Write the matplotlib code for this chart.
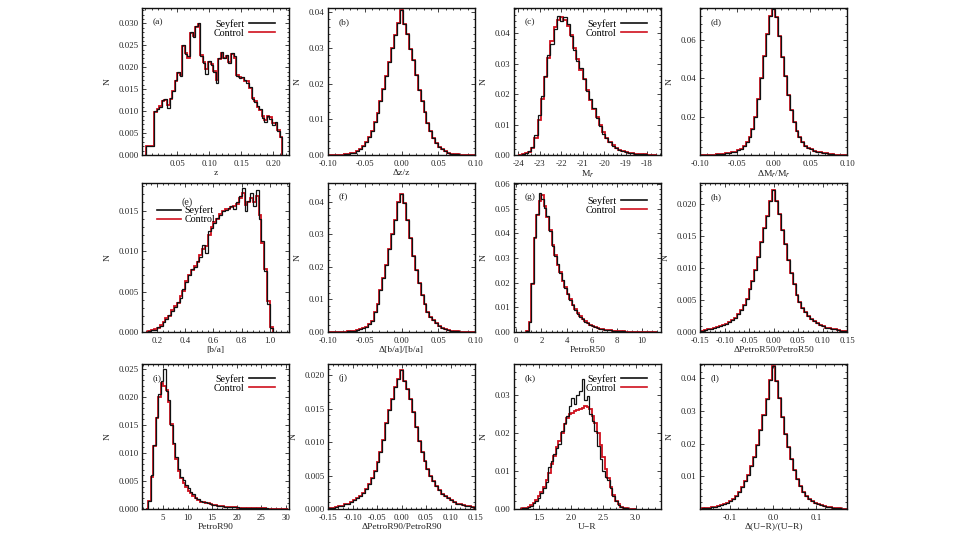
import numpy as np
import matplotlib
matplotlib.use('Agg')
import matplotlib.pyplot as plt
from matplotlib.lines import Line2D
from matplotlib.ticker import AutoMinorLocator, FixedLocator, FormatStrFormatter

plt.rcParams['font.family'] = ['Liberation Serif', 'DejaVu Serif']
plt.rcParams['axes.unicode_minus'] = True

BLACK = '#111111'
RED = '#d0101e'

# ---------------- data (bin start, bin width, values) ----------------
# (a) z
z_start, z_width = 0.002, 0.004
z_sey = [0.0020, 0.0020, 0.0020, 0.0100, 0.0105, 0.0110, 0.0125, 0.0128, 0.0108, 0.0130,
         0.0145, 0.0170, 0.0190, 0.0180, 0.0250, 0.0230, 0.0225, 0.0280, 0.0270, 0.0295,
         0.0300, 0.0225, 0.0210, 0.0185, 0.0215, 0.0205, 0.0190, 0.0165, 0.0220, 0.0235,
         0.0220, 0.0228, 0.0210, 0.0233, 0.0225, 0.0180, 0.0175, 0.0178, 0.0170, 0.0165,
         0.0155, 0.0128, 0.0120, 0.0112, 0.0105, 0.0085, 0.0075, 0.0090, 0.0083, 0.0068,
         0.0075, 0.0055, 0.0040]
z_con = [0.0020, 0.0020, 0.0020, 0.0098, 0.0105, 0.0112, 0.0122, 0.0126, 0.0115, 0.0128,
         0.0145, 0.0168, 0.0188, 0.0182, 0.0248, 0.0232, 0.0222, 0.0278, 0.0272, 0.0292,
         0.0298, 0.0228, 0.0212, 0.0195, 0.0212, 0.0208, 0.0192, 0.0172, 0.0218, 0.0232,
         0.0222, 0.0226, 0.0212, 0.0230, 0.0222, 0.0182, 0.0178, 0.0176, 0.0168, 0.0168,
         0.0152, 0.0130, 0.0122, 0.0110, 0.0102, 0.0088, 0.0080, 0.0088, 0.0086, 0.0072,
         0.0072, 0.0058, 0.0042]

# (b) dz/z
dz_start, dz_width = -0.102, 0.004
dz_vals = [0.00003, 0.00005, 0.00005, 0.0001, 0.0001, 0.0001, 0.0002, 0.0003, 0.0005, 0.0007,
           0.0011, 0.0017, 0.0025, 0.0036, 0.0050, 0.0068, 0.0092, 0.0118, 0.0150, 0.0185,
           0.0222, 0.0262, 0.0300, 0.0335, 0.0370,
           0.0405,
           0.0368, 0.0340, 0.0298, 0.0265, 0.0225, 0.0182, 0.0152, 0.0120, 0.0090, 0.0066,
           0.0048, 0.0034, 0.0023, 0.0016, 0.0010, 0.0007, 0.0004, 0.0003, 0.0002, 0.0001,
           0.0001, 0.0001, 0.00005, 0.00003, 0.00002]

# (c) M_r
mr_start, mr_width = -24.0, 0.15
mr_sey = [0.0001, 0.0002, 0.0006, 0.0012, 0.0025, 0.0065, 0.0130, 0.0195, 0.0260, 0.0330,
          0.0365, 0.0415, 0.0458, 0.0440, 0.0455, 0.0430, 0.0390, 0.0345, 0.0310, 0.0285,
          0.0250, 0.0210, 0.0185, 0.0155, 0.0120, 0.0095, 0.0070, 0.0055, 0.0042, 0.0030,
          0.0022, 0.0015, 0.0012, 0.0009, 0.0007, 0.0005, 0.0004, 0.0003, 0.0002, 0.0002,
          0.0001, 0.0001, 0.0001]
mr_con = [0.0001, 0.0002, 0.0005, 0.0011, 0.0022, 0.0055, 0.0115, 0.0185, 0.0255, 0.0320,
          0.0375, 0.0420, 0.0445, 0.0452, 0.0445, 0.0425, 0.0395, 0.0350, 0.0315, 0.0280,
          0.0250, 0.0215, 0.0180, 0.0150, 0.0125, 0.0098, 0.0075, 0.0057, 0.0043, 0.0032,
          0.0023, 0.0016, 0.0012, 0.0009, 0.0007, 0.0005, 0.0004, 0.0003, 0.0002, 0.0002,
          0.0001, 0.0001, 0.0001]

# (d) dMr/Mr
dmr_start, dmr_width = -0.102, 0.004
dmr_vals = [0.0001, 0.0001, 0.0001, 0.0001, 0.0001, 0.0002, 0.0003, 0.0004, 0.0006, 0.0008,
            0.0010, 0.0014, 0.0018, 0.0024, 0.0032, 0.0045, 0.0065, 0.0095, 0.0135, 0.0200,
            0.0290, 0.0400, 0.0515, 0.0630, 0.0720,
            0.0760,
            0.0715, 0.0620, 0.0510, 0.0410, 0.0310, 0.0235, 0.0170, 0.0125, 0.0092, 0.0065,
            0.0048, 0.0036, 0.0029, 0.0023, 0.0018, 0.0014, 0.0011, 0.0008, 0.0005, 0.0003,
            0.0002, 0.0001, 0.0001, 0.0001, 0.0001]

# (e) [b/a]
ba_start, ba_width = 0.12, 0.02
ba_sey = [0.0000, 0.0001, 0.0002, 0.0003, 0.0006, 0.0008, 0.0012, 0.0016, 0.0021, 0.0026,
          0.0031, 0.0037, 0.0042, 0.0053, 0.0062, 0.0070, 0.0078, 0.0080, 0.0088, 0.0093,
          0.0108, 0.0098, 0.0125, 0.0128, 0.0134, 0.0141, 0.0145, 0.0150, 0.0151, 0.0153,
          0.0155, 0.0152, 0.0160, 0.0168, 0.0178, 0.0150, 0.0162, 0.0172, 0.0155, 0.0175,
          0.0140, 0.0112, 0.0075, 0.0035, 0.0005]
ba_con = [0.0000, 0.0001, 0.0002, 0.0004, 0.0005, 0.0009, 0.0012, 0.0017, 0.0020, 0.0027,
          0.0032, 0.0036, 0.0044, 0.0051, 0.0063, 0.0071, 0.0076, 0.0082, 0.0087, 0.0095,
          0.0102, 0.0106, 0.0120, 0.0130, 0.0136, 0.0140, 0.0146, 0.0149, 0.0152, 0.0152,
          0.0154, 0.0155, 0.0158, 0.0165, 0.0172, 0.0157, 0.0160, 0.0166, 0.0160, 0.0168,
          0.0145, 0.0110, 0.0078, 0.0038, 0.0006]

# (f) d[b/a]/[b/a]
dba_start, dba_width = -0.102, 0.004
dba_vals = [0.00005, 0.00005, 0.00005, 0.0001, 0.0001, 0.0001, 0.0001, 0.0002, 0.0003, 0.0004,
            0.0005, 0.0008, 0.0011, 0.0016, 0.0024, 0.0035, 0.0062, 0.0085, 0.0128, 0.0165,
            0.0205, 0.0255, 0.0300, 0.0345, 0.0400,
            0.0425,
            0.0395, 0.0345, 0.0290, 0.0235, 0.0190, 0.0152, 0.0115, 0.0085, 0.0062, 0.0047,
            0.0036, 0.0027, 0.0019, 0.0013, 0.0009, 0.0006, 0.0004, 0.0003, 0.0002, 0.0001,
            0.0001, 0.0001, 0.00005, 0.00005, 0.00005]

# (g) PetroR50
r50_start, r50_width = 0.8, 0.2
r50_sey = [0.0003, 0.0040, 0.0200, 0.0385, 0.0480, 0.0565, 0.0540, 0.0505, 0.0470, 0.0410,
           0.0350, 0.0310, 0.0275, 0.0240, 0.0210, 0.0180, 0.0155, 0.0130, 0.0108, 0.0090,
           0.0075, 0.0062, 0.0051, 0.0042, 0.0035, 0.0029, 0.0025, 0.0021, 0.0017, 0.0014,
           0.0012, 0.0010, 0.0008, 0.0007, 0.0005, 0.0004, 0.0004, 0.0003, 0.0003, 0.0002,
           0.0002, 0.0002, 0.0001, 0.0001, 0.0001, 0.0001, 0.0001, 0.0001, 0.00005, 0.00005,
           0.00005, 0.00005]
r50_con = [0.0004, 0.0042, 0.0195, 0.0380, 0.0475, 0.0530, 0.0555, 0.0510, 0.0468, 0.0415,
           0.0352, 0.0312, 0.0272, 0.0242, 0.0208, 0.0182, 0.0153, 0.0132, 0.0110, 0.0092,
           0.0076, 0.0063, 0.0052, 0.0043, 0.0036, 0.0030, 0.0025, 0.0021, 0.0017, 0.0014,
           0.0012, 0.0010, 0.0008, 0.0007, 0.0005, 0.0004, 0.0004, 0.0003, 0.0003, 0.0002,
           0.0002, 0.0002, 0.0001, 0.0001, 0.0001, 0.0001, 0.0001, 0.0001, 0.00005, 0.00005,
           0.00005, 0.00005]

# (h) dPetroR50/PetroR50
dr50_start, dr50_width = -0.153, 0.006
dr50_vals = [0.0001, 0.0002, 0.0003, 0.0004, 0.0005, 0.0007, 0.0008, 0.0010, 0.0011, 0.0013,
             0.0015, 0.0018, 0.0022, 0.0028, 0.0035, 0.0043, 0.0052, 0.0067, 0.0080, 0.0097,
             0.0118, 0.0140, 0.0162, 0.0182, 0.0205,
             0.0222,
             0.0205, 0.0185, 0.0160, 0.0138, 0.0113, 0.0092, 0.0075, 0.0058, 0.0047, 0.0038,
             0.0031, 0.0025, 0.0020, 0.0017, 0.0014, 0.0011, 0.0009, 0.0007, 0.0006, 0.0005,
             0.0004, 0.0003, 0.0002, 0.0001, 0.0001]

# (i) PetroR90
r90_start, r90_width = 1.5, 0.5
r90_sey = [0.0000, 0.0015, 0.0060, 0.0115, 0.0165, 0.0205, 0.0228, 0.0250, 0.0210, 0.0195,
           0.0150, 0.0118, 0.0092, 0.0072, 0.0058, 0.0052, 0.0042, 0.0037, 0.0030, 0.0026,
           0.0020, 0.0017, 0.0014, 0.0012, 0.0012, 0.0011, 0.0009, 0.0008, 0.0007, 0.0006,
           0.0006, 0.0005, 0.0004, 0.0004, 0.0004, 0.0003, 0.0003, 0.0003, 0.0002, 0.0002,
           0.0002, 0.0002, 0.0002, 0.0001, 0.0001, 0.0001, 0.0001, 0.0001, 0.0001, 0.0001,
           0.00005, 0.00005, 0.00005, 0.00005, 0.00005, 0.00005, 0.0000, 0.0000]
r90_con = [0.0000, 0.0014, 0.0058, 0.0112, 0.0162, 0.0200, 0.0225, 0.0220, 0.0212, 0.0192,
           0.0152, 0.0116, 0.0090, 0.0068, 0.0055, 0.0047, 0.0040, 0.0033, 0.0028, 0.0024,
           0.0019, 0.0016, 0.0013, 0.0012, 0.0011, 0.0010, 0.0009, 0.0008, 0.0007, 0.0006,
           0.0005, 0.0005, 0.0004, 0.0004, 0.0003, 0.0003, 0.0003, 0.0002, 0.0002, 0.0002,
           0.0002, 0.0002, 0.0001, 0.0001, 0.0001, 0.0001, 0.0001, 0.0001, 0.0001, 0.00005,
           0.00005, 0.00005, 0.00005, 0.00005, 0.00005, 0.00005, 0.0000, 0.0000]

# (j) dPetroR90/PetroR90
dr90_start, dr90_width = -0.153, 0.006
dr90_vals = [0.0001, 0.0002, 0.0002, 0.0003, 0.0004, 0.0005, 0.0007, 0.0008, 0.0010, 0.0013,
             0.0016, 0.0020, 0.0024, 0.0030, 0.0038, 0.0046, 0.0057, 0.0070, 0.0086, 0.0104,
             0.0128, 0.0148, 0.0165, 0.0183, 0.0195,
             0.0208,
             0.0192, 0.0180, 0.0165, 0.0145, 0.0123, 0.0102, 0.0086, 0.0072, 0.0060, 0.0050,
             0.0042, 0.0035, 0.0028, 0.0023, 0.0019, 0.0016, 0.0013, 0.0010, 0.0008, 0.0007,
             0.0006, 0.0005, 0.0004, 0.0003, 0.0002]

# (k) U-R
ur_start, ur_width = 1.2, 0.04
ur_sey = [0.0001, 0.0002, 0.0003, 0.0005, 0.0008, 0.0015, 0.0022, 0.0030, 0.0042, 0.0055,
          0.0070, 0.0110, 0.0125, 0.0145, 0.0160, 0.0170, 0.0205, 0.0225, 0.0245, 0.0270,
          0.0290, 0.0275, 0.0300, 0.0310, 0.0340, 0.0285, 0.0295, 0.0250, 0.0230, 0.0205,
          0.0165, 0.0130, 0.0100, 0.0085, 0.0075, 0.0055, 0.0035, 0.0020, 0.0010, 0.0006,
          0.0003, 0.0002, 0.0001, 0.0001, 0.0000]
ur_con = [0.0001, 0.0002, 0.0003, 0.0006, 0.0010, 0.0016, 0.0024, 0.0033, 0.0045, 0.0058,
          0.0075, 0.0095, 0.0118, 0.0140, 0.0162, 0.0178, 0.0200, 0.0222, 0.0238, 0.0248,
          0.0252, 0.0256, 0.0260, 0.0262, 0.0266, 0.0270, 0.0268, 0.0262, 0.0245, 0.0225,
          0.0200, 0.0168, 0.0135, 0.0105, 0.0080, 0.0058, 0.0038, 0.0022, 0.0012, 0.0006,
          0.0003, 0.0002, 0.0001, 0.0001, 0.0000]

# (l) d(U-R)/(U-R)
dur_start, dur_width = -0.1715, 0.007
dur_vals = [0.0001, 0.0002, 0.0003, 0.0004, 0.0005, 0.0007, 0.0009, 0.0012, 0.0015, 0.0019,
            0.0024, 0.0031, 0.0040, 0.0052, 0.0066, 0.0085, 0.0105, 0.0130, 0.0160, 0.0195,
            0.0240, 0.0286, 0.0336, 0.0395,
            0.0438,
            0.0390, 0.0338, 0.0280, 0.0230, 0.0190, 0.0152, 0.0120, 0.0092, 0.0070, 0.0053,
            0.0040, 0.0030, 0.0023, 0.0018, 0.0014, 0.0011, 0.0008, 0.0006, 0.0005, 0.0004,
            0.0003, 0.0002, 0.0001, 0.0001]

# tick labels
z_ticks = [0.05, 0.10, 0.15, 0.20]
d10_ticks = [-0.10, -0.05, 0.00, 0.05, 0.10]
mr_ticks = [-24, -23, -22, -21, -20, -19, -18]
ba_ticks = [0.2, 0.4, 0.6, 0.8, 1.0]
r50_ticks = [0, 2, 4, 6, 8, 10]
d15_ticks = [-0.15, -0.10, -0.05, 0.00, 0.05, 0.10, 0.15]
r90_ticks = [5, 10, 15, 20, 25, 30]
ur_ticks = [1.5, 2.0, 2.5, 3.0]
dur_ticks = [-0.1, 0.0, 0.1]

panels = [
    dict(lab='(a)', xl='z', s=z_start, w=z_width, sey=z_sey, con=z_con,
         xlim=(-0.005, 0.2245), ylim=(0, 0.0335), xt=z_ticks, xf='%.2f',
         yt=[0, 0.005, 0.010, 0.015, 0.020, 0.025, 0.030], yf='%.3f', leg='r'),
    dict(lab='(b)', xl='Δz/z', s=dz_start, w=dz_width, sey=dz_vals, con=dz_vals,
         xlim=(-0.1, 0.1), ylim=(0, 0.0412), xt=d10_ticks, xf='%.2f',
         yt=[0, 0.01, 0.02, 0.03, 0.04], yf='%.2f', leg=None),
    dict(lab='(c)', xl='M$_r$', s=mr_start, w=mr_width, sey=mr_sey, con=mr_con,
         xlim=(-24.2, -17.35), ylim=(0, 0.0483), xt=mr_ticks, xf='%d',
         yt=[0, 0.01, 0.02, 0.03, 0.04], yf='%.2f', leg='r'),
    dict(lab='(d)', xl='ΔM$_r$/M$_r$', s=dmr_start, w=dmr_width, sey=dmr_vals, con=dmr_vals,
         xlim=(-0.1, 0.1), ylim=(0, 0.0764), xt=d10_ticks, xf='%.2f',
         yt=[0.02, 0.04, 0.06], yf='%.2f', leg=None),
    dict(lab='(e)', xl='[b/a]', s=ba_start, w=ba_width, sey=ba_sey, con=ba_con,
         xlim=(0.094, 1.135), ylim=(0, 0.0184), xt=ba_ticks, xf='%.1f',
         yt=[0, 0.005, 0.010, 0.015], yf='%.3f', leg='l'),
    dict(lab='(f)', xl='Δ[b/a]/[b/a]', s=dba_start, w=dba_width, sey=dba_vals, con=dba_vals,
         xlim=(-0.1, 0.1), ylim=(0, 0.0458), xt=d10_ticks, xf='%.2f',
         yt=[0, 0.01, 0.02, 0.03, 0.04], yf='%.2f', leg=None),
    dict(lab='(g)', xl='PetroR50', s=r50_start, w=r50_width, sey=r50_sey, con=r50_con,
         xlim=(-0.18, 11.5), ylim=(0, 0.0605), xt=r50_ticks, xf='%d',
         yt=[0, 0.01, 0.02, 0.03, 0.04, 0.05, 0.06], yf='%.2f', leg='r'),
    dict(lab='(h)', xl='ΔPetroR50/PetroR50', s=dr50_start, w=dr50_width, sey=dr50_vals, con=dr50_vals,
         xlim=(-0.15, 0.15), ylim=(0, 0.0233), xt=d15_ticks, xf='%.2f',
         yt=[0, 0.005, 0.010, 0.015, 0.020], yf='%.3f', leg=None),
    dict(lab='(i)', xl='PetroR90', s=r90_start, w=r90_width, sey=r90_sey, con=r90_con,
         xlim=(0.7, 30.7), ylim=(0, 0.0259), xt=r90_ticks, xf='%d',
         yt=[0, 0.005, 0.010, 0.015, 0.020, 0.025], yf='%.3f', leg='r'),
    dict(lab='(j)', xl='ΔPetroR90/PetroR90', s=dr90_start, w=dr90_width, sey=dr90_vals, con=dr90_vals,
         xlim=(-0.15, 0.15), ylim=(0, 0.0217), xt=d15_ticks, xf='%.2f',
         yt=[0, 0.005, 0.010, 0.015, 0.020], yf='%.3f', leg=None),
    dict(lab='(k)', xl='U−R', s=ur_start, w=ur_width, sey=ur_sey, con=ur_con,
         xlim=(1.108, 3.397), ylim=(0, 0.038), xt=ur_ticks, xf='%.1f',
         yt=[0, 0.01, 0.02, 0.03], yf='%.2f', leg='r'),
    dict(lab='(l)', xl='Δ(U−R)/(U−R)', s=dur_start, w=dur_width, sey=dur_vals, con=dur_vals,
         xlim=(-0.169, 0.171), ylim=(0, 0.0443), xt=dur_ticks, xf='%.1f',
         yt=[0.01, 0.02, 0.03, 0.04], yf='%.2f', leg=None),
]

W, H = 960, 540
col_left = [142, 328, 514, 700]
ax_w = 147
rows = [(8, 155), (183, 332), (364, 509)]

fig = plt.figure(figsize=(9.6, 5.4), dpi=100)
fig.patch.set_facecolor('white')

FS_TICK = 6.3
FS_LAB = 6.8
FS_LEG = 7.2

for i, p in enumerate(panels):
    r, c = divmod(i, 4)
    top, bot = rows[r]
    ax = fig.add_axes([col_left[c] / W, 1 - bot / H, ax_w / W, (bot - top) / H])
    sey = np.array(p['sey'])
    con = np.array(p['con'])
    edges_s = p['s'] + p['w'] * np.arange(len(sey) + 1)
    edges_c = p['s'] + p['w'] * np.arange(len(con) + 1)
    ax.stairs(con, edges_c, color=RED, lw=1.3, zorder=2)
    ax.stairs(sey, edges_s, color=BLACK, lw=0.9, zorder=3)
    ax.set_xlim(*p['xlim'])
    ax.set_ylim(*p['ylim'])
    ax.xaxis.set_major_locator(FixedLocator(p['xt']))
    ax.yaxis.set_major_locator(FixedLocator(p['yt']))
    ax.xaxis.set_major_formatter(FormatStrFormatter(p['xf']))
    ax.yaxis.set_major_formatter(FormatStrFormatter(p['yf']))
    ax.xaxis.set_minor_locator(AutoMinorLocator(5))
    ax.yaxis.set_minor_locator(AutoMinorLocator(5))
    ax.tick_params(which='both', direction='in', top=True, right=True,
                   labelsize=FS_TICK, width=0.6, colors='#222222')
    ax.tick_params(axis='x', which='major', pad=3.5)
    ax.tick_params(axis='y', which='major', pad=2.5)
    ax.tick_params(which='major', length=3)
    ax.tick_params(which='minor', length=1.5)
    for sp in ax.spines.values():
        sp.set_linewidth(1.0)
        sp.set_color('#111111')
    ax.set_xlabel(p['xl'], fontsize=FS_LAB, labelpad=0.5, color='#222222')
    ax.set_ylabel('N', fontsize=FS_LAB, labelpad=5, color='#222222')
    handles = [Line2D([], [], color=BLACK, lw=1.2), Line2D([], [], color=RED, lw=1.2)]
    if p['leg'] == 'r':
        ytop = {0: 0.925, 1: 0.913, 2: 0.93}[r]
        ax.legend(handles, ['Seyfert', 'Control'], loc='upper right',
                  bbox_to_anchor=(0.905, ytop), frameon=False, markerfirst=False,
                  fontsize=FS_LEG, handlelength=2.6, handletextpad=0.5,
                  labelspacing=0.0, borderpad=0, borderaxespad=0)
        ax.text(0.075, 0.905, p['lab'], transform=ax.transAxes, fontsize=FS_LAB,
                ha='left', va='center', color='#222222')
    elif p['leg'] == 'l':
        ax.legend(handles, ['Seyfert', 'Control'], loc='upper left',
                  bbox_to_anchor=(0.10, 0.85), frameon=False, markerfirst=True,
                  fontsize=FS_LEG, handlelength=2.4, handletextpad=0.4,
                  labelspacing=0.0, borderpad=0, borderaxespad=0)
        ax.text(0.27, 0.87, p['lab'], transform=ax.transAxes, fontsize=FS_LEG,
                ha='left', va='center', color='#222222')
    else:
        ax.text(0.075, 0.905, p['lab'], transform=ax.transAxes, fontsize=FS_LAB,
                ha='left', va='center', color='#222222')

fig.savefig('out.png', dpi=100, facecolor='white')
